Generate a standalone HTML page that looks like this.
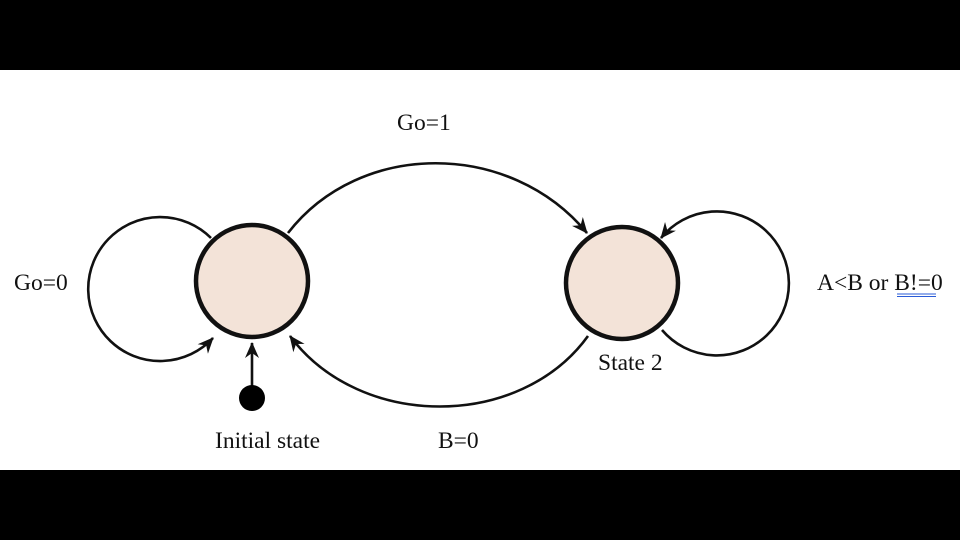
<!DOCTYPE html>
<html><head><meta charset="utf-8"><style>
body{margin:0;width:960px;height:540px;background:#000;overflow:hidden}
svg{display:block}
text{font-family:"Liberation Serif",serif;font-size:23.5px;fill:#111}
</style></head><body>
<svg width="960" height="540" viewBox="0 0 960 540">
<defs><marker id="a" viewBox="0 0 16 16" refX="15" refY="8" markerWidth="16" markerHeight="16" markerUnits="userSpaceOnUse" orient="auto"><path d="M0,1 L16,8 L0,15 L5,8 Z" fill="#111"/></marker></defs>
<rect x="0" y="70" width="960" height="400" fill="#fff"/>
<g fill="none" stroke="#111" stroke-width="2.6">
<path d="M211,238 A72,72 0 1 0 213,338" marker-end="url(#a)"/>
<path d="M662,330 A72,72 0 1 0 661,238" marker-end="url(#a)"/>
<path d="M288,233 C360,140 510,140 587,233" marker-end="url(#a)"/>
<path d="M588,336 C520,430 360,430 290,336" marker-end="url(#a)"/>
<path d="M252,386 L252,343" marker-end="url(#a)"/>
</g>
<circle cx="252" cy="281" r="56" fill="#f3e3d8" stroke="#111" stroke-width="4.5"/>
<circle cx="622" cy="283" r="56" fill="#f3e3d8" stroke="#111" stroke-width="4.5"/>
<circle cx="252" cy="398" r="13" fill="#000"/>
<text x="397" y="130">Go=1</text>
<text x="14" y="290">Go=0</text>
<text x="215" y="448">Initial state</text>
<text x="438" y="448">B=0</text>
<text x="598" y="370">State 2</text>
<text x="817" y="290">A&lt;B or B!=0</text>
<line x1="897" y1="294" x2="936" y2="294" stroke="#2a5bd7" stroke-width="1"/>
<line x1="897" y1="296.5" x2="936" y2="296.5" stroke="#2a5bd7" stroke-width="1"/>
</svg>
</body></html>
